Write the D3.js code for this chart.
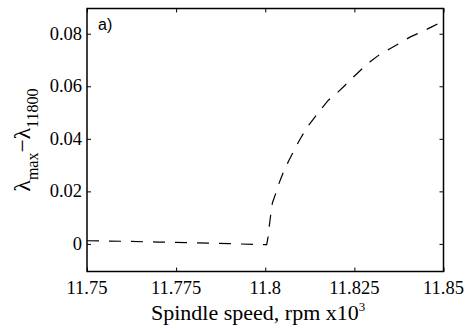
<!DOCTYPE html>
<html>
<head>
<meta charset="utf-8">
<script src="https://cdn.jsdelivr.net/npm/d3@7"></script>
<style>
  html, body { margin: 0; padding: 0; background: #fff; }
  svg { display: block; }
</style>
</head>
<body>
<svg id="chart" width="474" height="333"></svg>
<script>
// Spindle speed (x10^3 rpm) and eigenvalue difference lambda_max - lambda_11800
const speed = [11.75, 11.76, 11.77, 11.78, 11.79, 11.8,
  11.8004, 11.8008, 11.8011, 11.8016, 11.8020, 11.8031, 11.8040, 11.8053,
  11.8067, 11.8084, 11.8098, 11.8116, 11.8135, 11.8154, 11.8177, 11.8201,
  11.8224, 11.8247, 11.8272, 11.8294, 11.8322, 11.8351, 11.8383, 11.8407,
  11.8439, 11.8467, 11.85];
const lambdaDiff = [0.0012, 0.0010, 0.0007, 0.0004, 0.0001, -0.0003,
  -0.0003, 0.0027, 0.0065, 0.0118, 0.0156, 0.0198, 0.0236, 0.0281,
  0.0319, 0.0365, 0.0399, 0.0441, 0.0475, 0.0509, 0.0547, 0.0574,
  0.0604, 0.0635, 0.0667, 0.0693, 0.0722, 0.0744, 0.0769, 0.0788,
  0.0807, 0.0826, 0.0849];

const xTicks = [11.75, 11.775, 11.8, 11.825, 11.85];
const xTickLabels = ["11.75", "11.775", "11.8", "11.825", "11.85"];
const yTicks = [0, 0.02, 0.04, 0.06, 0.08];
const yTickLabels = ["0", "0.02", "0.04", "0.06", "0.08"];

const SERIF = "\"Liberation Serif\"";
const SANS = "\"Liberation Sans\"";

const svg = d3.select("#chart");
const plotL = 87, plotR = 443.5, plotT = 8.5, plotB = 271.5;

const x = d3.scaleLinear().domain([11.75, 11.85]).range([plotL, plotR]);
const y = d3.scaleLinear().domain([-0.0105, 0.0896]).range([plotB, plotT]);

const tickLen = 4;

// inward ticks on all four sides (negative tickSize points into the plot)
function addAxis(gen, transform, ticks) {
  const g = svg.append("g").attr("transform", transform)
    .call(gen.tickValues(ticks).tickSize(-tickLen).tickSizeOuter(0).tickFormat(""));
  g.select(".domain").remove();
  g.selectAll(".tick line").attr("stroke", "#000").attr("stroke-width", 1);
  g.selectAll(".tick text").remove();
}
addAxis(d3.axisBottom(x), `translate(0,${plotB})`, xTicks);
addAxis(d3.axisTop(x), `translate(0,${plotT})`, xTicks);
addAxis(d3.axisLeft(y), `translate(${plotL},0)`, yTicks);
addAxis(d3.axisRight(y), `translate(${plotR},0)`, yTicks);

// x tick labels
svg.append("g").selectAll("text").data(xTicks).join("text")
  .attr("font-family", SERIF).attr("font-size", 18.5)
  .attr("x", d => x(d)).attr("y", 294)
  .attr("text-anchor", "middle")
  .text((d, i) => xTickLabels[i]);

// y tick labels
svg.append("g").selectAll("text").data(yTicks).join("text")
  .attr("font-family", SERIF).attr("font-size", 18.5)
  .attr("x", plotL - 5).attr("y", d => y(d) + 6)
  .attr("text-anchor", "end")
  .text((d, i) => yTickLabels[i]);

// frame
svg.append("rect")
  .attr("x", plotL).attr("y", plotT)
  .attr("width", plotR - plotL).attr("height", plotB - plotT)
  .attr("fill", "none").attr("stroke", "#000").attr("stroke-width", 1.5);

// dashed curve
const line = d3.line().x((d, i) => x(speed[i])).y(d => y(d));
svg.append("path")
  .attr("d", line(lambdaDiff))
  .attr("fill", "none").attr("stroke", "#000").attr("stroke-width", 1.2)
  .attr("stroke-dasharray", "12,10");

// panel tag
svg.append("text")
  .attr("x", 98).attr("y", 30)
  .attr("font-family", SANS)
  .attr("font-size", 16)
  .text("a)");

// x axis title
const xt = svg.append("text")
  .attr("x", 151).attr("y", 320)
  .attr("font-family", SERIF)
  .attr("font-size", 22);
xt.append("tspan").text("Spindle speed, rpm x10");
xt.append("tspan").attr("dy", -9).attr("font-size", 13).text("3");

// y axis title
const yt = svg.append("text")
  .attr("transform", `translate(30,${(plotT + plotB) / 2}) rotate(-90)`)
  .attr("text-anchor", "middle")
  .attr("font-family", SERIF)
  .attr("font-size", 23.5);
yt.append("tspan").text("λ");
yt.append("tspan").attr("dy", 8).attr("font-size", 16).text("max");
yt.append("tspan").attr("dy", -8).text("−λ");
yt.append("tspan").attr("dy", 8).attr("font-size", 16).text("11800");
</script>
</body>
</html>
